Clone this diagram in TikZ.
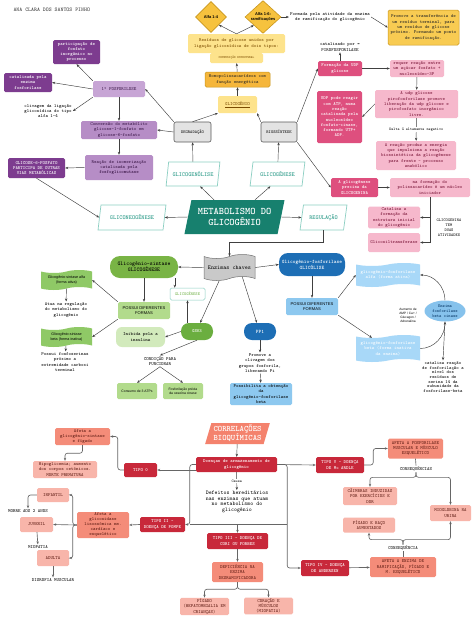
\documentclass[tikz,border=0pt]{standalone}
\usepackage{fontspec}
\setsansfont{Liberation Sans}
\usetikzlibrary{positioning, arrows.meta, calc, shapes.geometric, shapes.symbols}

\definecolor{inkgray}{HTML}{4A4A4A}
\definecolor{yelD}{HTML}{F6C23E}
\definecolor{yelB}{HTML}{C9961C}
\definecolor{yelP}{HTML}{F8CB52}
\definecolor{yelH}{HTML}{F5B63B}
\definecolor{yelL}{HTML}{FDE38C}
\definecolor{yelT}{HTML}{7A4B00}
\definecolor{purD}{HTML}{7D3C8F}
\definecolor{purM}{HTML}{B68DC6}
\definecolor{purL}{HTML}{C7A5D5}
\definecolor{purT}{HTML}{3B1748}
\definecolor{grayF}{HTML}{E3E3E3}
\definecolor{grayB}{HTML}{5A5A5A}
\definecolor{tealD}{HTML}{17806E}
\definecolor{tealB}{HTML}{8CCFC2}
\definecolor{tealT}{HTML}{2E9C8A}
\definecolor{pinkD}{HTML}{DE4F7E}
\definecolor{pinkL}{HTML}{F6B8CC}
\definecolor{pinkT}{HTML}{7A1538}
\definecolor{grnM}{HTML}{79B445}
\definecolor{grnD}{HTML}{6BAE3F}
\definecolor{grnL}{HTML}{B2DB8C}
\definecolor{grnF}{HTML}{8FC966}
\definecolor{grnP}{HTML}{D2EABC}
\definecolor{bluD}{HTML}{1D6EB5}
\definecolor{bluL}{HTML}{8DC8EF}
\definecolor{bluF}{HTML}{A8D8F8}
\definecolor{bluE}{HTML}{86C2EC}
\definecolor{bluT}{HTML}{0E3F6E}
\definecolor{redD}{HTML}{C8283A}
\definecolor{salD}{HTML}{F4826D}
\definecolor{salM}{HTML}{F48C79}
\definecolor{salL}{HTML}{F8B5AA}
\definecolor{salT}{HTML}{5C1A12}
\definecolor{enzF}{HTML}{C9C9C9}

\begin{document}
\begin{tikzpicture}[
    x=1pt, y=-1pt,
    >=Stealth,
    % --- Styles ---
    txt/.style={font=\fontsize{4.7}{5.3}\selectfont\ttfamily, align=center, inner sep=1pt},
    txt_sans/.style={font=\fontsize{4.1}{4.9}\selectfont\sffamily, align=center, inner sep=1pt},
    sz/.style 2 args={minimum width=#1, minimum height=#2},
    title_text/.style={font=\fontsize{5.6}{6}\selectfont\ttfamily\bfseries, text=inkgray},
    box/.style={txt, rounded corners=1.5pt, inner xsep=2pt, inner ysep=1pt},
    box_bold/.style={box, font=\fontsize{4.7}{5.3}\selectfont\ttfamily\bfseries, text=white},
    yellow_dia/.style={diamond, aspect=1, fill=yelD, draw=yelB, line width=0.6pt, inner sep=0pt, align=center, font=\fontsize{4}{4.6}\selectfont\sffamily\bfseries},
    yellow_dark/.style={box, fill=#1, draw=yelB, line width=0.5pt, text=black!85},
    yellow_light/.style={box, fill=yelL, text=yelT},
    purple_dark/.style={box_bold, fill=purD},
    purple_mid/.style={box, fill=#1, text=purT},
    gray_box/.style={box, fill=grayF, draw=grayB, line width=0.6pt, rounded corners=2pt, font=\fontsize{4.3}{5}\selectfont\ttfamily},
    para/.style={trapezium, trapezium left angle=72, trapezium right angle=108, trapezium stretches=true, inner sep=1pt, align=center},
    teal_para/.style={para, draw=tealB, line width=0.7pt, fill=white, text=tealT, font=\fontsize{6}{7}\selectfont\ttfamily\bfseries},
    pink_dark/.style={box_bold, fill=pinkD},
    pink_light/.style={box, fill=pinkL, text=pinkT},
    green_round/.style={box, fill=grnM, rounded corners=10pt, font=\fontsize{5.6}{6.2}\selectfont\ttfamily\bfseries},
    green_light/.style={box, fill=grnL, font=\fontsize{4.1}{4.9}\selectfont\sffamily},
    green_flag/.style={tape, tape bend height=3pt, fill=grnF, align=center, inner sep=1pt, font=\fontsize{3.7}{4.6}\selectfont\sffamily},
    blue_round/.style={box_bold, fill=bluD, rounded corners=9pt, font=\fontsize{5.2}{5.9}\selectfont\ttfamily\bfseries},
    blue_light/.style={box, fill=bluL},
    blue_flag/.style={tape, tape bend height=3pt, fill=bluF, text=white, align=center, inner sep=1pt, font=\fontsize{4.7}{5.3}\selectfont\ttfamily},
    red_box/.style={box_bold, fill=redD},
    salmon_mid/.style={box, fill=salM, text=salT},
    salmon_light/.style={box, fill=salL, text=salT},
    on_line/.style={txt, fill=white, inner sep=0.6pt, font=\fontsize{3.9}{4.4}\selectfont\ttfamily},
    conn/.style={-{Stealth[length=3pt, width=2.4pt]}, line width=0.45pt, draw=black!75},
    bus/.style={conn, rounded corners=2.5pt, line width=0.65pt, draw=black!60},
]

    \fill[white] (0,0) rectangle (474,619);
    \useasboundingbox (0,0) rectangle (474,619);

    % ==========================
    % 1. GLICOGENIO (top)
    % ==========================
    \node[title_text, anchor=west] (autora) at (10,10) {ANA CLARA DOS SANTOS PINHO};

    \node[yellow_dia, sz={31}{31}] (alfa14) at (211,17) {Alfa 1-4};
    \node[yellow_dia, sz={36}{31}] (alfa16) at (263,17) {Alfa 1-6:\\ramificações};
    \node[txt] (formada) at (330,17) {Formada pela atividade da enzima\\de ramificação do glicogênio};
    \node[yellow_dark=yelP, sz={71}{35}] (promove) at (423.5,27.5) {Promove a transferência de\\um resíduo terminal, para\\um resíduo de glicose\\próximo. Formando um ponto\\de ramificação.};

    \node[yellow_light, sz={97}{19}] (residuos) at (236.5,43.5) {Resíduos de glicose unidos por\\ligação glicosídica de dois tipos:};
    \node[yellow_light, sz={53}{10}, font=\fontsize{3.2}{3.6}\selectfont\ttfamily] (compos) at (236.5,58) {COMPOSIÇÃO ESTRUTURAL};
    \node[yellow_dark=yelH, sz={65}{15}] (homo) at (237.5,79.5) {Homopolissacarídeos com\\função energética};
    \node[yellow_light, sz={39}{17}] (glicog) at (237.5,104.5) {\underline{GLICOGÊNIO}};

    \draw[conn] (residuos.north) -- (alfa14.south east);
    \draw[conn] (residuos.north) -- (alfa16.south west);
    \draw[conn] (alfa16.east) -- (formada.west);
    \draw[conn] (formada.east) -- (promove.west);
    \draw[conn] (homo) -- (compos);
    \draw[conn] (glicog) -- (homo);

    % ==========================
    % 2. DEGRADACAO (left)
    % ==========================
    \node[purple_mid=purL, sz={52}{16}] (fosf1) at (119,89) {1º FOSFORILOSE};
    \node[purple_dark, sz={47}{24}] (particip) at (76.5,52) {participação de\\fosfato\\inorgânico no\\processo};
    \node[purple_dark, sz={48}{19}] (catal) at (28,82.5) {catalisada pela\\enzima\\fosforilase};
    \node[txt] (cliv) at (48,111) {clivagem da ligação\\glicosídica do tipo\\alfa 1-4};
    \node[purple_mid=purM, sz={76}{18}] (conv) at (119,130) {Conversão do metabólito\\glicose-1-fosfato em\\glicose-6-fosfato};
    \node[purple_mid=purM, sz={68}{25}] (reac) at (119,167.5) {Reação de isomerização\\catalisada pela\\\textbf{fosfoglicomutase}};
    \node[purple_dark, sz={57}{20}] (g6p) at (36.5,168) {GLICOSE-6-FOSFATO\\PARTICIPA DE OUTRAS\\VIAS METABÓLICAS};

    \node[gray_box, sz={37}{20}] (degr) at (192.5,132) {DEGRADAÇÃO};
    \node[gray_box, sz={36}{20}] (biossin) at (279,132) {BIOSSÍNTESE};
    \node[teal_para, sz={54}{24}] (glicogenol) at (193,174) {GLICOGENÓLISE};
    \node[teal_para, sz={55}{24}] (glicogenese) at (277.5,174) {GLICOGÊNESE};

    \draw[conn] (degr.north) -- (glicog.south west);
    \draw[conn] (biossin.north west) -- (glicog.south east);
    \draw[conn] (degr.north west) -- (fosf1.east);
    \draw[conn] (fosf1.north west) -- (particip.south);
    \draw[conn] (fosf1.west) -- (catal.east);
    \draw[conn] (fosf1.south west) -- (cliv.east);
    \draw[conn] (fosf1) -- (conv);
    \draw[conn] (degr.west) -- (conv.east);
    \draw[conn] (conv) -- (reac);
    \draw[conn] (reac.west) -- (g6p.east);
    \draw[conn] (glicogenol) -- (degr);
    \draw[conn] (glicogenese) -- (biossin);

    % ==========================
    % 3. METABOLISMO (center)
    % ==========================
    \node[para, fill=tealD, text=white, sz={101}{34}, font=\fontsize{10}{10.5}\selectfont\ttfamily\bfseries] (metab) at (234.5,217) {METABOLISMO DO\\GLICOGÊNIO};
    \node[teal_para, sz={68}{25}] (gliconeo) at (132,217.5) {GLICONEOGÊNESE};
    \node[teal_para, sz={47}{25}] (regul) at (323.5,217.5) {REGULAÇÃO};

    \draw[conn] (metab.140) -- (glicogenol.-60);
    \draw[conn] (metab.40) -- (glicogenese.-120);
    \draw[conn] (metab.west) -- (gliconeo.east);
    \draw[conn] (metab.east) -- (regul.west);
    \draw[conn] (g6p.south) -- (gliconeo.west);

    % ==========================
    % 4. BIOSSINTESE (right)
    % ==========================
    \node[txt] (catpiro) at (340,47) {catalisado por =\\PIROFOSFORILASE};
    \node[pink_dark, sz={44}{15}] (formudp) at (340,68.5) {Formação da UDP\\glicose};
    \node[pink_light, sz={54}{17}] (requer) at (417,68.5) {requer reação entre\\um açúcar fosfato +\\nucleosídeo-3P};
    \node[pink_light, sz={83}{28}] (audp) at (416.5,104) {A udp glicose\\pirofosforilase promove\\liberação da udp glicose e\\pirofosfato inorgânico\\livre.};
    \node[pink_dark, sz={45}{52}] (udputp) at (339.5,117) {UDP pode reagir\\com ATP, numa\\reação\\catalisada pela\\nucleosídeo\\fosfato-cinase,\\formando UTP+\\ADP.};
    \node[pink_light, sz={80}{29}] (areac) at (416,155.5) {A reação produz a energia\\que impulsiona a reação\\biossintética da glicogênese\\para frente - processo\\anabólico};
    \node[pink_dark, sz={47}{19}] (precisa) at (354.5,187.5) {A glicogênese\\precisa da\\GLICOGENINA};
    \node[pink_light, sz={80}{19}] (nucleo) at (430,187.5) {na formação do\\polissacarídeo é um núcleo\\iniciador};
    \node[pink_light, sz={52}{21}] (catform) at (394,217.5) {Catalisa a\\formação da\\estrutura inicial\\do glicogênio};
    \node[pink_light, sz={52}{19}] (glicosil) at (394,242.5) {Glicosiltransferase};
    \node[txt, font=\fontsize{4.2}{5}\selectfont\ttfamily] (duas) at (449,228) {GLICOGENINA\\TEM\\DUAS\\ATIVIDADES};

    \draw[conn] (biossin.north east) -- (formudp.west);
    \draw[conn] (formudp) -- (catpiro);
    \draw[conn] (formudp) -- (requer);
    \draw[conn] (requer) -- (audp);
    \draw[conn] (audp.west) -- (udputp.east);
    \draw[conn] (audp) -- node[on_line] {Delta G altamente negativo} (areac);
    \draw[conn] (biossin.south east) -- (precisa.west);
    \draw[conn] (precisa) -- (nucleo);
    \draw[conn] (nucleo.south) |- (catform.east);
    \draw[conn] (nucleo.south) |- (glicosil.east);

    % ==========================
    % 5. ENZIMAS CHAVES
    % ==========================
    \node[tape, tape bend height=4pt, fill=enzF, draw=black!55, line width=0.5pt, sz={51}{26}, txt, font=\fontsize{5.8}{6.4}\selectfont\ttfamily] (enz) at (229.5,267.5) {Enzimas chaves};
    \draw[conn] (regul.south) -- ++(0,12) -| (enz.north);

    % glicogenio-sintase
    \node[green_round, sz={68}{22}] (gs) at (144,267) {Glicogênio-sintase\\GLICOGÊNESE};
    \node[box, fill=white, draw=tealB, line width=0.5pt, text=grnD, sz={35}{12}, font=\fontsize{4.3}{5}\selectfont\ttfamily] (glicsmall) at (187.5,294) {GLICOGÊNESE};
    \node[green_light, sz={52}{17}] (gsposs) at (144,310.5) {POSSUI DIFERENTES\\FORMAS};
    \node[green_flag, sz={51}{20}] (gsalfa) at (66.5,280) {Glicogênio-sintase alfa\\(forma ativa)};
    \node[txt] (atua) at (66,310) {Atua na regulação\\do metabolismo do\\glicogênio};
    \node[green_flag, sz={51}{20}] (gsbeta) at (66.5,337) {Glicogênio-sintase\\beta (forma inativa)};
    \node[txt] (possui) at (65,362) {Possui fosfoserinas\\próximo a\\extremidade carboxi\\terminal};
    \node[box, fill=grnP, rounded corners=6pt, sz={49}{20}] (inib) at (140.5,337) {Inibida pela a\\insulina};
    \node[box_bold, fill=grnD, rounded corners=8pt, sz={32}{17}] (gsk) at (197,331.5) {GSK3};
    \node[txt] (cond) at (160,361) {CONDIÇÃO PARA\\FUNCIONAR};
    \node[green_light, sz={40}{16}, font=\fontsize{3.4}{4.3}\selectfont\sffamily] (atps) at (137,391) {Consumo de 3 ATPs};
    \node[green_light, sz={40}{16}, font=\fontsize{3.4}{4.3}\selectfont\sffamily] (casein) at (183,391) {Fosforilação prévia\\da caseína cinase};

    \draw[conn] (enz.west) -- (gs.east);
    \draw[conn] (gs.-20) -- (gs.-20 |- glicsmall.north);
    \draw[conn] (glicsmall.south |- gsk.north) -- (glicsmall.south);
    \draw[conn] (enz.232) -- (gsk.70);
    \draw[conn] (gs) -- (gsposs);
    \draw[conn] (gsposs.north west) -- (gsalfa.east);
    \draw[conn] (gsposs.south west) -- (gsbeta.east);
    \draw[conn] (gsalfa) -- (atua);
    \draw[conn] (gsbeta) -- (possui);
    \draw[conn] (gsk.west) -- (inib.east);
    \draw[conn] (gsk.south) -- (cond.north);
    \draw[conn] (cond.south) -- (atps.north);
    \draw[conn] (cond.south) -- (casein.north);

    % glicogenio-fosforilase
    \node[blue_round, sz={66}{23}] (gp) at (312,264.5) {Glicogênio-fosforilase\\GLICÓLISE};
    \node[blue_round, rounded corners=8pt, sz={32}{17}] (pp1) at (260,331.5) {PP1};
    \node[txt] (promcliv) at (260,363) {Promove a\\clivagem dos\\grupos fosforila,\\liberando Pi};
    \node[blue_light, sz={62}{22}] (possib) at (261,394) {Possibilita a obtenção\\da\\glicogênio-fosforilase\\beta};
    \node[blue_light, sz={52}{17}, font=\fontsize{4.1}{4.9}\selectfont\sffamily] (gpposs) at (312,306.5) {POSSUI DIFERENTES\\FORMAS};
    \node[blue_flag, sz={64}{24}] (gpalfa) at (388,275) {glicogênio-fosforilase\\alfa (forma ativa)};
    \node[blue_flag, sz={64}{27}] (gpbeta) at (388,348.5) {glicogênio-fosforilase\\beta (forma inativa\\da enzima)};
    \node[ellipse, fill=bluE, text=bluT, inner sep=0pt, align=center, sz={41}{21}, font=\fontsize{4.4}{4.9}\selectfont\ttfamily\bfseries] (kinase) at (445,311) {Enzima\\fosforilase\\beta cinase};
    \node[txt_sans, font=\fontsize{3.2}{4}\selectfont\sffamily] (aumento) at (408,315) {Aumento de\\AMP / Ca+ /\\Glucagon /\\Adrenalina};
    \node[txt, font=\fontsize{4.6}{4.7}\selectfont\ttfamily] (catreac) at (443,377) {catalisa reação\\de fosforilação a\\nível dos\\resíduos de\\serina 14 da\\subunidade da\\fosforilase-beta};

    \draw[conn] (enz.east) -- (gp.west);
    \draw[conn] (enz.-50) -- (pp1.110);
    \draw[conn] (pp1) -- (promcliv);
    \draw[conn] (promcliv) -- (possib);
    \draw[conn] (gp) -- (gpposs);
    \draw[conn] (gpposs.north east) -- (gpalfa.west);
    \draw[conn] (gpposs.south east) -- (gpbeta.155);
    \draw[conn] (kinase.north) to[out=90, in=0] (gpalfa.east);
    \draw[conn] (gpbeta.east) to[out=0, in=-90] (kinase.south);
    \draw[conn] (kinase.south) -- (catreac.north);

    % ==========================
    % 6. CORRELACOES BIOQUIMICAS
    % ==========================
    \node[para, fill=salD, text=white, sz={65}{21}, font=\fontsize{8.3}{8.6}\selectfont\ttfamily\bfseries] (correl) at (237.5,433.5) {CORRELAÇÕES\\BIOQUÍMICAS};
    \node[red_box, sz={81}{15}] (doencas) at (236.5,464.5) {Doenças de armazenamento de\\glicogênio};
    \node[txt, font=\fontsize{5.6}{5.6}\selectfont\ttfamily] (defeitos) at (237,502) {Defeitos hereditários\\nas enzimas que atuam\\no metabolismo do\\glicogênio};

    \draw[conn] (correl) -- (doencas);
    \draw[conn] (doencas) -- node[on_line] {Causa} (defeitos);

    % tipo 0
    \node[red_box, sz={33}{14}] (tipo0) at (140.5,470) {TIPO 0};
    \node[salmon_mid, sz={55}{17}] (afgs) at (82.5,436.5) {Afeta a\\glicogênio-sintase\\e fígado};
    \node[salmon_light, sz={64}{17}] (hipo) at (65,469.5) {Hipoglicemia; aumento\\dos corpos cetônicos.\\MORTE PREMATURA};

    \draw[bus] (doencas.west |- tipo0) -- (tipo0.east);
    \draw[bus] (tipo0.west) -- ++(-6,0) |- (afgs.east);
    \draw[bus] (afgs.south) -- ++(0,8) -| (hipo.north);

    % tipo V
    \node[red_box, sz={48}{16}] (tipo5) at (340,465) {TIPO V - DOENÇA\\DE Mc ARDLE};
    \node[salmon_mid, sz={55}{20}] (affos) at (415.5,448.5) {AFETA A FOSFORILASE\\MUSCULAR E MÚSCULO\\ESQUELÉTICO};
    \node[txt] (consq) at (416,469) {CONSEQUÊNCIAS};
    \node[salmon_light, sz={54}{18}] (caimb) at (370,496) {CÃIMBRAS INDUZIDAS\\POR EXERCÍCIOS E\\DOR};
    \node[salmon_light, sz={41}{16}] (miogl) at (450.5,513) {MIOGLOBINA NA\\URINA};

    \draw[bus] (doencas.east) -- (tipo5.west);
    \draw[bus] (tipo5.east) -- ++(9,0) |- (affos.west);
    \draw[bus, -] (affos.south) -- (consq.north);
    \draw[bus] (consq.south) -- ++(0,5) -| (caimb.north);
    \draw[bus] (consq.south) -- ++(0,5) -| (miogl.north);

    % tipo II
    \node[red_box, sz={45}{15}] (tipo2) at (162.5,524.5) {TIPO II -\\DOENÇA DE POMPE};
    \node[salmon_mid, sz={52}{26}, font=\fontsize{4.7}{5}\selectfont\ttfamily] (afglic) at (103,525) {Afeta a\\glicosidase\\lisossômica nm.\\cardíaco e\\esquelético};
    \node[salmon_light, sz={32}{14}] (infantil) at (53,495) {INFANTIL};
    \node[txt] (morre) at (28,511) {MORRE AOS 2 ANOS};
    \node[salmon_light, sz={33}{15}] (juvenil) at (36.5,524.5) {JUVENIL};
    \node[txt] (miopat) at (38,547) {MIOPATIA};
    \node[salmon_light, sz={32}{16}] (adulta) at (53,558) {ADULTA};
    \node[txt] (distrof) at (53,580) {DISROFIA MUSCULAR};

    \draw[bus] (doencas.west) -- ++(-6,0) |- (tipo2.east);
    \draw[bus] (tipo2.west) -- (afglic.east);
    \draw[bus] (afglic.west) -- ++(-4,0) |- (infantil.east);
    \draw[bus] (afglic.west) -- (juvenil.east);
    \draw[bus] (afglic.west) -- ++(-4,0) |- (adulta.east);
    \draw[bus] (infantil.west) -| (morre.north);
    \draw[bus] (juvenil) -- (miopat);
    \draw[bus] (adulta) -- (distrof);

    % tipo III
    \node[red_box, sz={61}{16}] (tipo3) at (237.5,541) {TIPO III - DOENÇA DE\\CORI OU FORBES};
    \node[salmon_mid, sz={51}{20}] (defic) at (237.5,572) {DEFICIÊNCIA NA\\ENZIMA\\DESRAMIFICADORA};
    \node[salmon_light, sz={49}{17}] (figado) at (204.5,606.5) {FÍGADO\\(HEPATOMEGALIA EM\\CRIANÇAS)};
    \node[salmon_light, sz={49}{16}] (coracao) at (268.5,606) {CORAÇÃO E\\MÚSCULOS\\(MIOPATIA)};

    \draw[bus, -] ([xshift=-6pt]doencas.west |- tipo2.east) -- ([xshift=10pt]doencas.east |- tipo2.east);
    \draw[bus] (tipo3.north |- tipo2.east) -- (tipo3.north);
    \draw[bus] (tipo3) -- (defic);
    \draw[bus] (defic.south) -- ++(0,7) -| (figado.north);
    \draw[bus] (defic.south) -- ++(0,7) -| (coracao.north);

    % tipo IV
    \node[red_box, sz={48}{16}] (tipo4) at (325,568) {TIPO IV - DOENÇA\\DE ANDERSEN};
    \node[salmon_mid, sz={66}{20}] (afram) at (403,567) {AFETA A ENZIMA DE\\RAMIFICAÇÃO, FÍGADO E\\M. ESQUELÉTICO};
    \node[txt] (consq2) at (403,548) {CONSEQUÊNCIA};
    \node[salmon_light, sz={52}{15}] (figbaco) at (369,525) {FÍGADO E BAÇO\\AUMENTADOS};

    \draw[bus] (doencas.east) -- ++(10,0) |- (tipo4.west);
    \draw[bus] (tipo4) -- (afram);
    \draw[bus, -] (afram.north) -- (consq2.south);
    \draw[bus] (consq2.north) -- ++(0,-5) -| (figbaco.south);
    \draw[bus] (consq2.north) -- ++(0,-5) -| (miogl.south);

\end{tikzpicture}
\end{document}
